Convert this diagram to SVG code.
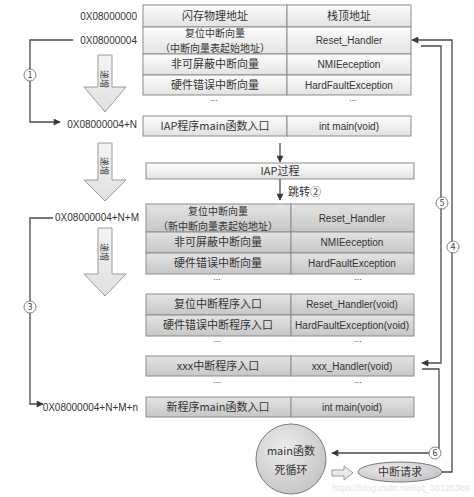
<svg xmlns="http://www.w3.org/2000/svg" width="474" height="497" viewBox="0 0 474 497">
<defs>
<linearGradient id="gLight" x1="0" y1="0" x2="0" y2="1"><stop offset="0" stop-color="#fdfdfd"/><stop offset="1" stop-color="#e2e2e2"/></linearGradient>
<linearGradient id="gGrey" x1="0" y1="0" x2="0" y2="1"><stop offset="0" stop-color="#e4e4e4"/><stop offset="1" stop-color="#c6c6c6"/></linearGradient>
<linearGradient id="gArrow" x1="0" y1="0" x2="0" y2="1"><stop offset="0" stop-color="#f4f4f4"/><stop offset="1" stop-color="#e0e0e0"/></linearGradient>
<radialGradient id="gCirc" cx="0.4" cy="0.35" r="0.7"><stop offset="0" stop-color="#ececec"/><stop offset="1" stop-color="#c4c4c4"/></radialGradient>
<marker id="ah" viewBox="0 0 10 10" refX="9" refY="5" markerWidth="8" markerHeight="7" markerUnits="userSpaceOnUse" orient="auto"><path d="M0,0 L10,5 L0,10 Z" fill="#3a3a3a"/></marker>
</defs>
<style>
.cl{fill:url(#gLight);stroke:#8c8c8c;stroke-width:1}
.cg{fill:url(#gGrey);stroke:#8c8c8c;stroke-width:1}
.cn{font-family:"Noto Sans CJK SC",sans-serif;font-size:11px;fill:#333;text-anchor:middle}
.c2{font-family:"Noto Sans CJK SC",sans-serif;font-size:10px;fill:#333;text-anchor:middle}
.en{font-family:"Liberation Sans",Arial,sans-serif;font-size:10px;fill:#333;text-anchor:middle}
.ad{font-family:"Liberation Sans",Arial,sans-serif;font-size:10px;fill:#333;text-anchor:end}
.dots{font-family:"Liberation Sans",Arial,sans-serif;font-size:9px;fill:#333;text-anchor:middle}
.ln{fill:none;stroke:#4a4a4a;stroke-width:1.3}
.num{fill:#fff;stroke:#666;stroke-width:0.8}
.nt{font-family:"Noto Sans CJK SC",sans-serif;font-size:9px;fill:#444;text-anchor:middle}
.ba{fill:url(#gArrow);stroke:#9a9a9a;stroke-width:1}
.bt{font-family:"Noto Sans CJK SC",sans-serif;font-size:9px;fill:#444}
</style>

<g id="addresses">
<text class="ad" x="137" y="20">0X08000000</text>
<text class="ad" x="137" y="44">0X08000004</text>
<text class="ad" x="137" y="128">0X08000004+N</text>
<text class="ad" x="139" y="221">0X08000004+N+M</text>
<text class="ad" x="138" y="411">0X08000004+N+M+n</text>
</g>

<g id="table1">
<rect class="cl" x="143" y="5" width="144" height="22"/><rect class="cl" x="287" y="5" width="124" height="22"/>
<rect class="cl" x="143" y="27" width="144" height="27"/><rect class="cl" x="287" y="27" width="124" height="27"/>
<rect class="cl" x="143" y="54" width="144" height="21"/><rect class="cl" x="287" y="54" width="124" height="21"/>
<rect class="cl" x="143" y="75" width="144" height="20"/><rect class="cl" x="287" y="75" width="124" height="20"/>
<text class="cn" x="215" y="20">闪存物理地址</text><text class="cn" x="349" y="20">栈顶地址</text>
<text class="c2" x="215" y="37">复位中断向量</text>
<text class="c2" x="215" y="51.5">（中断向量表起始地址）</text><text class="en" x="349" y="44">Reset_Handler</text>
<text class="cn" x="215" y="68">非可屏蔽中断向量</text><text class="en" x="349" y="68">NMIEeception</text>
<text class="cn" x="215" y="89">硬件错误中断向量</text><text class="en" x="349" y="89">HardFaultException</text>
<text class="dots" x="214" y="101">...</text><text class="dots" x="353" y="101">...</text>
</g>

<g id="iapMain">
<rect class="cl" x="143" y="116" width="144" height="20"/><rect class="cl" x="287" y="116" width="124" height="20"/>
<text class="cn" x="215" y="130">IAP程序main函数入口</text><text class="en" x="349" y="130">int main(void)</text>
</g>

<g id="iapProcess">
<rect class="cl" x="146" y="163" width="268" height="16"/>
<text class="cn" x="280" y="175" font-size="10">IAP过程</text>
</g>

<g id="table2">
<rect class="cg" x="146" y="204" width="145" height="28"/><rect class="cg" x="291" y="204" width="123" height="28"/>
<rect class="cg" x="146" y="232" width="145" height="21"/><rect class="cg" x="291" y="232" width="123" height="21"/>
<rect class="cg" x="146" y="253" width="145" height="21"/><rect class="cg" x="291" y="253" width="123" height="21"/>
<text class="c2" x="218" y="215">复位中断向量</text>
<text class="c2" x="218" y="229.5">（新中断向量表起始地址）</text><text class="en" x="352" y="222">Reset_Handler</text>
<text class="cn" x="218" y="246">非可屏蔽中断向量</text><text class="en" x="352" y="246">NMIEeception</text>
<text class="cn" x="218" y="267">硬件错误中断向量</text><text class="en" x="352" y="267">HardFaultException</text>
<text class="dots" x="217" y="280">...</text><text class="dots" x="358" y="280">...</text>
</g>

<g id="table3">
<rect class="cg" x="146" y="294" width="145" height="21"/><rect class="cg" x="291" y="294" width="123" height="21"/>
<rect class="cg" x="146" y="315" width="145" height="21"/><rect class="cg" x="291" y="315" width="123" height="21"/>
<text class="cn" x="218" y="308">复位中断程序入口</text><text class="en" x="352" y="308">Reset_Handler(void)</text>
<text class="cn" x="218" y="329">硬件错误中断程序入口</text><text class="en" x="352" y="329" textLength="114" lengthAdjust="spacingAndGlyphs">HardFaultException(void)</text>
<text class="dots" x="217" y="342">...</text><text class="dots" x="358" y="342">...</text>
</g>

<g id="xxxRow">
<rect class="cg" x="146" y="356" width="145" height="20"/><rect class="cg" x="291" y="356" width="123" height="20"/>
<text class="cn" x="218" y="370">xxx中断程序入口</text><text class="en" x="352" y="370">xxx_Handler(void)</text>
<text class="dots" x="217" y="383">...</text><text class="dots" x="358" y="383">...</text>
</g>

<g id="newMain">
<rect class="cg" x="146" y="397" width="145" height="20"/><rect class="cg" x="291" y="397" width="123" height="20"/>
<text class="cn" x="218" y="411">新程序main函数入口</text><text class="en" x="352" y="411">int main(void)</text>
</g>

<g id="incArrow1">
<polygon class="ba" points="98,55 112,55 112,87 126,87 105,112 84,87 98,87"/>
<text class="bt" transform="translate(101,70) rotate(90)">递增</text>
</g>
<g id="incArrow2">
<polygon class="ba" points="98,143 112,143 112,180 126,180 105,201 84,180 98,180"/>
<text class="bt" transform="translate(101,157) rotate(90)">递增</text>
</g>
<g id="incArrow3">
<polygon class="ba" points="98,228 112,228 112,274 126,274 105,296 84,274 98,274"/>
<text class="bt" transform="translate(101,243) rotate(90)">递增</text>
</g>

<g id="mainLoop">
<circle cx="291" cy="459" r="35" fill="url(#gCirc)" stroke="#7a7a7a" stroke-width="1"/>
<text class="cn" x="291" y="455">main函数</text>
<text class="cn" x="291" y="474">死循环</text>
</g>

<g id="irq">
<ellipse cx="400" cy="472" rx="42" ry="10" fill="url(#gCirc)" stroke="#7a7a7a" stroke-width="1"/>
<text class="cn" x="400" y="476">中断请求</text>
</g>

<g id="connectors">
<path class="ln" d="M73,40 H30 V122 H60" marker-end="url(#ah)"/>
<path class="ln" d="M53,218 H30 V404 H43" marker-end="url(#ah)"/>
<path class="ln" d="M280,143 V162" marker-end="url(#ah)"/>
<path class="ln" d="M280,179 V200" marker-end="url(#ah)"/>
<path class="ln" d="M442,472 H452 V40 H412" marker-end="url(#ah)"/>
<path class="ln" d="M421,46 H441 V363 H422" marker-end="url(#ah)"/>
<path class="ln" d="M422,369 H439 V453 H332" marker-end="url(#ah)"/>
<polygon class="ba" points="332,470 344,470 344,466 353,473 344,480 344,476 332,476"/>
<circle class="num" cx="30" cy="75" r="6"/><text class="nt" x="30" y="78">1</text>
<circle class="num" cx="30" cy="307" r="6"/><text class="nt" x="30" y="310">3</text>
<circle class="num" cx="442" cy="203" r="6"/><text class="nt" x="442" y="206">5</text>
<circle class="num" cx="453" cy="247" r="6"/><text class="nt" x="453" y="250">4</text>
<circle class="num" cx="435" cy="453" r="6"/><text class="nt" x="435" y="456">6</text>
<text class="cn" x="288" y="196" style="text-anchor:start">跳转②</text>
</g>

<text x="470" y="491" font-family="Liberation Sans,Arial,sans-serif" font-size="9" fill="#e4e4e4" text-anchor="end">https://blog.csdn.net/qq_36125389</text>
</svg>
